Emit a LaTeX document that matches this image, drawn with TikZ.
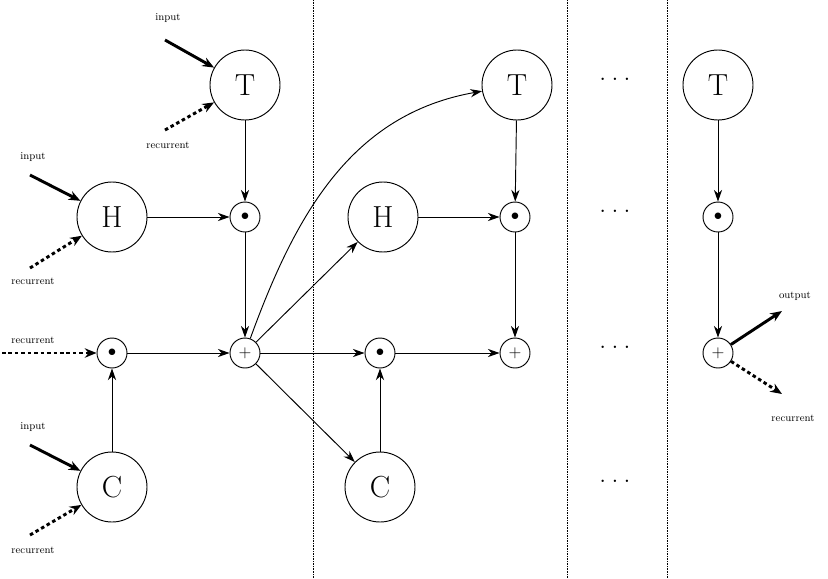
\documentclass[tikz,border=0pt]{standalone}
\usetikzlibrary{arrows.meta}
\begin{document}
\begin{tikzpicture}[x=0.03cm,y=-0.03cm,
 big/.style={circle,draw,thick,minimum size=70*0.03cm,inner sep=0pt,font=\fontsize{26}{28}\selectfont},
 op/.style={circle,draw,thick,minimum size=30*0.03cm,inner sep=0pt,font=\Large},
 e/.style={-{Stealth[length=10pt,width=7pt]},thick},
 inp/.style={-{Stealth[length=10pt,width=8pt]},line width=2.5pt},
 rec/.style={inp,dash pattern=on 3pt off 2.5pt},
 lab/.style={font=\small},
 sep/.style={densely dotted,thin},
 ell/.style={font=\Huge}]
\useasboundingbox (0,0) rectangle (828,578);
\node[big] (T1) at (245,85) {T};
\node[big] (T2) at (517,85) {T};
\node[big] (T3) at (718,85) {T};
\node[big] (H1) at (112,217) {H};
\node[big] (H2) at (383,217) {H};
\node[big] (C1) at (112,487) {C};
\node[big] (C2) at (380,487) {C};
\node[op] (d1) at (245,217) {$\bullet$};
\node[op] (d2) at (515,217) {$\bullet$};
\node[op] (d3) at (718,217) {$\bullet$};
\node[op] (dL) at (112,353) {$\bullet$};
\node[op] (p1) at (245,353) {$+$};
\node[op] (dM) at (380,353) {$\bullet$};
\node[op] (p2) at (515,353) {$+$};
\node[op] (p3) at (718,353) {$+$};
\foreach \x in {313,567,667} \draw[sep] (\x,0) -- (\x,578);
\foreach \y in {85,217,353,487} \node[ell] (el\y) at (615,\y-6) {.\,.\,.};
\draw[e] (T1) -- (d1); \draw[e] (H1) -- (d1); \draw[e] (d1) -- (p1);
\draw[e] (dL) -- (p1); \draw[e] (C1) -- (dL);
\draw[e] (p1) to[out=70,in=190] (T2);
\draw[e] (p1) -- (H2); \draw[e] (p1) -- (dM); \draw[e] (p1) -- (C2);
\draw[e] (C2) -- (dM); \draw[e] (dM) -- (p2);
\draw[e] (H2) -- (d2); \draw[e] (T2) -- (d2); \draw[e] (d2) -- (p2);
\draw[e] (T3) -- (d3); \draw[e] (d3) -- (p3);
% inputs
\node[lab] (li1) at (168,18) {input};
\node[lab] (lr1) at (168,145) {recurrent};
\coordinate (ai1) at (165,40); \coordinate (ar1) at (165,130);
\draw[inp] (ai1) -- (T1); \draw[rec] (ar1) -- (T1);
\node[lab] (li2) at (33,157) {input};
\node[lab] (lr2) at (33,281) {recurrent};
\coordinate (ai2) at (30,175); \coordinate (ar2) at (30,268);
\draw[inp] (ai2) -- (H1); \draw[rec] (ar2) -- (H1);
\node[lab] (li3) at (33,427) {input};
\node[lab] (lr3) at (33,550) {recurrent};
\coordinate (ai3) at (30,445); \coordinate (ar3) at (30,535);
\draw[inp] (ai3) -- (C1); \draw[rec] (ar3) -- (C1);
\node[lab] (lr4) at (33,340) {recurrent};
\coordinate (ar4) at (2,353);
\draw[rec] (ar4) -- (dL);
\node[lab] (lo) at (795,296) {output};
\node[lab] (lr5) at (793,418) {recurrent};
\coordinate (ao) at (782,311); \coordinate (ar5) at (782,394);
\draw[inp] (p3) -- (ao); \draw[rec] (p3) -- (ar5);
\end{tikzpicture}
\end{document}
